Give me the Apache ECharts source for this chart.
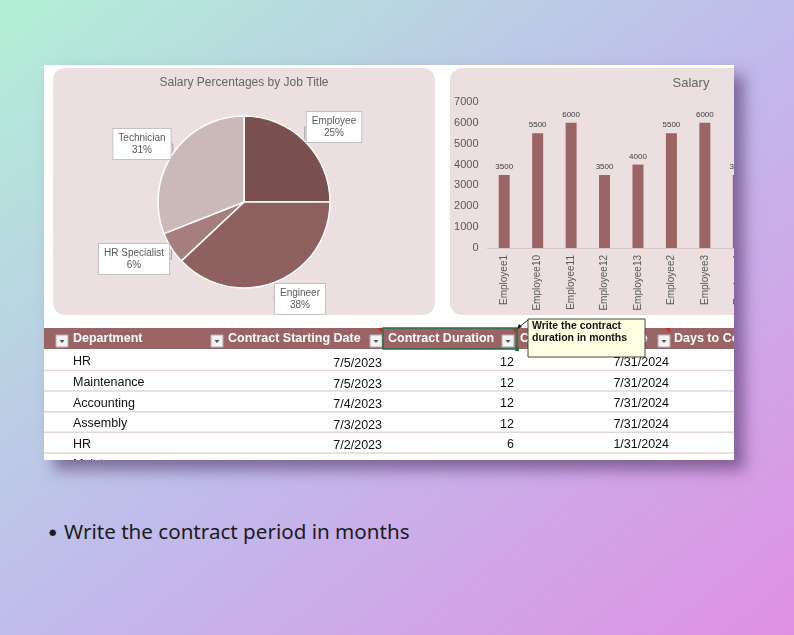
<!DOCTYPE html>
<html><head><meta charset="utf-8">
<script src="https://cdn.jsdelivr.net/npm/echarts@6/dist/echarts.min.js"></script>
<style>
html,body{margin:0;padding:0;width:794px;height:635px;overflow:hidden;}
body{background:linear-gradient(to bottom right,#b2f0d6 0%,#c0bcec 50%,#e090e4 100%);position:relative;}
#shadow{position:absolute;left:44px;top:65px;width:690px;height:395px;background:#fff;box-shadow:10px 10px 14px rgba(70,40,90,0.55);}
#chart{position:absolute;left:0;top:0;width:794px;height:635px;clip-path:inset(65px 60px 175px 44px);}
#bullet{position:absolute;left:64px;top:517px;font-family:'Noto Sans',sans-serif;font-size:20.6px;color:#1c1c1c;white-space:nowrap;}
#dot{position:absolute;left:49px;top:524px;font-family:'DejaVu Sans',sans-serif;font-size:8.5px;line-height:16px;color:#1c1c1c;}
</style></head>
<body>
<div id="shadow"></div>
<div id="chart"></div>
<div id="dot">●</div>
<div id="bullet">Write the contract period in months</div>
<script>
// ---- data ----
const jobTitles = ['Employee', 'Engineer', 'HR Specialist', 'Technician'];
const jobShares = [25, 38, 6, 31];
const employees = ['Employee1', 'Employee10', 'Employee11', 'Employee12', 'Employee13', 'Employee2', 'Employee3', 'Employee4'];
const salaries = [3500, 5500, 6000, 3500, 4000, 5500, 6000, 3500];
const tableHeaders = ['Department', 'Contract Starting Date', 'Contract Duration', 'Contract Ending Date', 'Days to Contract End'];
const departments = ['HR', 'Maintenance', 'Accounting', 'Assembly', 'HR', 'Maintenance'];
const startDates = ['7/5/2023', '7/5/2023', '7/4/2023', '7/3/2023', '7/2/2023', '7/1/2023'];
const durations = [12, 12, 12, 12, 6, 6];
const endDates = ['7/31/2024', '7/31/2024', '7/31/2024', '7/31/2024', '1/31/2024', '1/31/2024'];
const commentText = ['Write the contract', 'duration in months'];

// ---- styles / layout ----
const sliceColors = ['#7a5050', '#8e6060', '#a67e7e', '#cbb9b9'];
const pieLabelPos = [[334, 127], [300, 299], [134, 259], [142, 144]];
const FONT = "'Liberation Sans', Arial, sans-serif";

const chart = echarts.init(document.getElementById('chart'));

const graphics = [];
// panels
graphics.push({type: 'rect', z: 0, shape: {x: 53, y: 68, width: 382, height: 247, r: 12}, style: {fill: '#ebdfdf'}});
graphics.push({type: 'rect', z: 0, shape: {x: 450, y: 68, width: 330, height: 247, r: 12}, style: {fill: '#ebdfdf'}});
graphics.push({type: 'text', z: 5, x: 244, y: 83, style: {text: 'Salary Percentages by Job Title', font: '12px ' + FONT, fill: '#666', align: 'center', verticalAlign: 'middle'}});
graphics.push({type: 'text', z: 5, x: 691, y: 83, style: {text: 'Salary', font: '13px ' + FONT, fill: '#666', align: 'center', verticalAlign: 'middle'}});

// table header
graphics.push({type: 'rect', z: 1, shape: {x: 44, y: 328, width: 700, height: 21}, style: {fill: '#9a6464'}});
const headerX = [73, 228, 388, 520, 674];
const buttonX = [56, 211, 370, 502, 658];
buttonX.forEach(function (bx) {
  graphics.push({type: 'rect', z: 3, shape: {x: bx, y: 335, width: 12, height: 12}, style: {fill: '#f4f2f2', stroke: '#b8b0b0', lineWidth: 1}});
  graphics.push({type: 'polygon', z: 4, shape: {points: [[bx + 3.5, 340], [bx + 8.5, 340], [bx + 6, 343]]}, style: {fill: '#555'}});
});
tableHeaders.forEach(function (h, i) {
  graphics.push({type: 'text', z: 3, x: headerX[i], y: 338.5, style: {text: h, font: 'bold 12.5px ' + FONT, fill: '#fff', verticalAlign: 'middle'}});
});
// red comment markers
[382, 516, 670].forEach(function (rx) {
  graphics.push({type: 'polygon', z: 5, shape: {points: [[rx - 5, 328], [rx, 328], [rx, 333]]}, style: {fill: '#e02020'}});
});
// selected cell
graphics.push({type: 'rect', z: 6, shape: {x: 383, y: 328, width: 134, height: 21}, style: {fill: 'none', stroke: '#217346', lineWidth: 1.5}});
graphics.push({type: 'rect', z: 7, shape: {x: 515, y: 347, width: 4, height: 4}, style: {fill: '#217346'}});
// comment
graphics.push({type: 'line', z: 8, shape: {x1: 518, y1: 328, x2: 528, y2: 320}, style: {stroke: '#222', lineWidth: 1}});
graphics.push({type: 'polygon', z: 8, shape: {points: [[517, 329], [522, 327], [519, 324]]}, style: {fill: '#111'}});
graphics.push({type: 'rect', z: 8, shape: {x: 528, y: 319, width: 117, height: 38}, style: {fill: '#ffffe1', stroke: '#444', lineWidth: 1}});
commentText.forEach(function (t, i) {
  graphics.push({type: 'text', z: 9, x: 532, y: 326 + i * 12.5, style: {text: t, font: 'bold 10.5px ' + FONT, fill: '#111', verticalAlign: 'middle'}});
});

// table rows
const rowStep = 20.6;
for (let i = 0; i < departments.length; i++) {
  const cy = 362 + i * rowStep;
  graphics.push({type: 'text', z: 3, x: 73, y: cy, style: {text: departments[i], font: '12.5px ' + FONT, fill: '#111', verticalAlign: 'middle'}});
  graphics.push({type: 'text', z: 3, x: 382, y: cy + 1.5, style: {text: startDates[i], font: '12.5px ' + FONT, fill: '#111', align: 'right', verticalAlign: 'middle'}});
  graphics.push({type: 'text', z: 3, x: 514, y: cy + 0.5, style: {text: String(durations[i]), font: '12.5px ' + FONT, fill: '#111', align: 'right', verticalAlign: 'middle'}});
  graphics.push({type: 'text', z: 3, x: 669, y: cy + 0.5, style: {text: endDates[i], font: '12.5px ' + FONT, fill: '#111', align: 'right', verticalAlign: 'middle'}});
  const ly = 370.5 + i * rowStep;
  graphics.push({type: 'line', z: 2, shape: {x1: 44, y1: ly, x2: 744, y2: ly}, style: {stroke: '#e2d6d6', lineWidth: 1.5}});
}

const option = {
  animation: false,
  backgroundColor: 'transparent',
  textStyle: {fontFamily: FONT},
  graphic: {elements: graphics},
  grid: {left: 487.5, top: 102, width: 267.5, height: 146},
  xAxis: {
    type: 'category', data: employees,
    axisLine: {lineStyle: {color: '#d4c6c6'}},
    axisTick: {show: false},
    axisLabel: {rotate: 90, fontSize: 10, color: '#595959', margin: 7, interval: 0}
  },
  yAxis: {
    type: 'value', min: 0, max: 7000, interval: 1000,
    axisLine: {show: false}, axisTick: {show: false}, splitLine: {show: false},
    axisLabel: {fontSize: 11, color: '#595959', margin: 9, formatter: function (v) { return String(v); }}
  },
  series: [
    {
      type: 'pie', z: 4,
      center: [244, 202], radius: 86, startAngle: 90, clockwise: true,
      data: jobTitles.map(function (n, i) { return {name: n, value: jobShares[i], itemStyle: {color: sliceColors[i]}}; }),
      itemStyle: {borderColor: '#fff', borderWidth: 1.5},
      label: {
        show: true, position: 'outside', formatter: '{b}\n{d}%',
        fontSize: 10, color: '#595959', lineHeight: 12, align: 'center',
        backgroundColor: '#fff', borderColor: '#c8c0c0', borderWidth: 1, padding: [3, 5]
      },
      labelLine: {show: true, length: 4, length2: 4, lineStyle: {color: '#a0a0a0', width: 1}},
      labelLayout: function (params) {
        const p = pieLabelPos[params.dataIndex];
        return {x: p[0], y: p[1], align: 'center', verticalAlign: 'middle'};
      }
    },
    {
      type: 'bar', z: 4,
      data: salaries, barWidth: 11,
      itemStyle: {color: '#9b6565'},
      label: {show: true, position: 'top', fontSize: 8, color: '#404040', distance: 4}
    }
  ]
};
chart.setOption(option);
</script>
</body></html>
